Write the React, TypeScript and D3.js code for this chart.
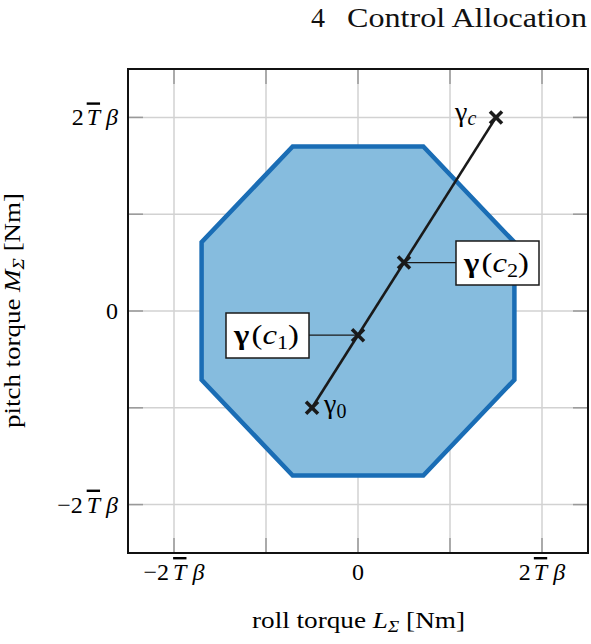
import React from "react";
import * as d3 from "d3";

const octagonX = [-0.71, 0.71, 1.7, 1.7, 0.71, -0.71, -1.7, -1.7];
const octagonY = [1.7, 1.7, 0.71, -0.71, -1.7, -1.7, -0.71, 0.71];
const pathX = [-0.5, 1.5];
const pathY = [-1, 2];
const markerX = [-0.5, 0, 0.5, 1.5];
const markerY = [-1, -0.25, 0.5, 2];
const gridValues = [-2, -1, 0, 1, 2];
const tickValues = [-2, 0, 2];
const tickLabels = ["−2", "0", "2"];

const W = 591, H = 644;
const L = 128, R = 588, T = 69, B = 553;
const FONT = "'Liberation Serif', 'Times New Roman', serif";

function TickLabel({ x, y, label, anchor }: { x: number; y: number; label: string; anchor: string }) {
  if (label === "0") {
    return (
      <text x={x} y={y} textAnchor={anchor} fontSize={24} fontFamily={FONT}>0</text>
    );
  }
  return (
    <text x={x} y={y} textAnchor={anchor} fontSize={24} fontFamily={FONT}>
      <tspan dx={0}>{label}</tspan>
      <tspan dx={label.length > 1 ? 4 : 3} fontStyle="italic" textDecoration="overline">T</tspan>
      <tspan dx={6} fontStyle="italic">β</tspan>
    </text>
  );
}

export default function App() {
  const x = d3.scaleLinear().domain([-2.5, 2.5]).range([L, R]);
  const y = d3.scaleLinear().domain([-2.5, 2.5]).range([B, T]);
  const octPts: [number, number][] = octagonX.map((v, i) => [x(v), y(octagonY[i])]);
  const poly = d3.line()(octPts.concat([octPts[0]])) + "Z";
  const segLine = d3.line()(pathX.map((v, i) => [x(v), y(pathY[i])] as [number, number]));
  const tick = 15;
  const ms = 6;

  const c1x = x(markerX[1]), c1y = y(markerY[1]);
  const c2x = x(markerX[2]), c2y = y(markerY[2]);

  return (
    <svg width={W} height={H} style={{ position: "absolute", left: 0, top: 0 }} fontFamily={FONT}>
      <rect x={0} y={0} width={W} height={H} fill="white" />
      <text x={311} y={27} fontSize={28} fontFamily={FONT} fill="#111">
        4
      </text>
      <text x={347} y={27} fontSize={28} fontFamily={FONT} fill="#111" textLength={240} lengthAdjust="spacingAndGlyphs">
        Control Allocation
      </text>
      {/* grid */}
      {gridValues.map((g) => (
        <g key={"g" + g}>
          <line x1={x(g)} x2={x(g)} y1={T} y2={B} stroke="#d2d2d2" strokeWidth={1.5} />
          <line x1={L} x2={R} y1={y(g)} y2={y(g)} stroke="#d2d2d2" strokeWidth={1.5} />
        </g>
      ))}
      {/* ticks */}
      {gridValues.map((g) => (
        <g key={"t" + g} stroke="#999" strokeWidth={1.5}>
          <line x1={x(g)} x2={x(g)} y1={B} y2={B - tick} />
          <line x1={x(g)} x2={x(g)} y1={T} y2={T + tick} />
          <line x1={L} x2={L + tick} y1={y(g)} y2={y(g)} />
          <line x1={R} x2={R - tick} y1={y(g)} y2={y(g)} />
        </g>
      ))}
      {/* octagon */}
      <path d={poly} fill="#86bcde" stroke="#1a6db5" strokeWidth={4.5} strokeLinejoin="miter" />
      {/* path line */}
      <path d={segLine || ""} stroke="#1a1a1a" strokeWidth={2.6} fill="none" />
      {/* leader lines */}
      <line x1={309} x2={c1x} y1={c1y} y2={c1y} stroke="#1a1a1a" strokeWidth={1.3} />
      <line x1={c2x} x2={456} y1={c2y} y2={c2y} stroke="#1a1a1a" strokeWidth={1.3} />
      {/* markers */}
      {markerX.map((mx, i) => {
        const px = x(mx), py = y(markerY[i]);
        return (
          <g key={"m" + i} stroke="#1a1a1a" strokeWidth={3.6} strokeLinecap="butt">
            <line x1={px - ms} y1={py - ms} x2={px + ms} y2={py + ms} />
            <line x1={px - ms} y1={py + ms} x2={px + ms} y2={py - ms} />
          </g>
        );
      })}
      {/* boxes */}
      <rect x={226} y={313} width={83} height={45} fill="white" stroke="#1a1a1a" strokeWidth={1.5} />
      <text x={234} y={344} fontSize={28} fontFamily={FONT} textLength={65} lengthAdjust="spacingAndGlyphs">
        <tspan fontWeight="bold">γ</tspan><tspan dx={2}>(</tspan><tspan fontStyle="italic">c</tspan><tspan fontSize={19} dy={5}>1</tspan><tspan dy={-5}>)</tspan>
      </text>
      <rect x={456} y={241} width={83} height={44} fill="white" stroke="#1a1a1a" strokeWidth={1.5} />
      <text x={464} y={272} fontSize={28} fontFamily={FONT} textLength={65} lengthAdjust="spacingAndGlyphs">
        <tspan fontWeight="bold">γ</tspan><tspan dx={2}>(</tspan><tspan fontStyle="italic">c</tspan><tspan fontSize={19} dy={5}>2</tspan><tspan dy={-5}>)</tspan>
      </text>
      {/* point labels */}
      <text x={x(markerX[0]) + 12} y={y(markerY[0]) + 5} fontSize={28} fontFamily={FONT}>
        γ<tspan fontSize={20} dy={5}>0</tspan>
      </text>
      <text x={x(markerX[3]) - 41} y={y(markerY[3]) + 4} fontSize={28} fontFamily={FONT}>
        γ<tspan fontSize={20} dy={4} fontStyle="italic">c</tspan>
      </text>
      {/* frame */}
      <rect x={L} y={T} width={R - L} height={B - T} fill="none" stroke="#111" strokeWidth={2} />
      {/* tick labels */}
      {tickValues.map((v, i) => (
        <TickLabel key={"xl" + v} x={x(v)} y={580} label={tickLabels[i]} anchor="middle" />
      ))}
      {tickValues.map((v, i) => (
        <TickLabel key={"yl" + v} x={118} y={y(v) + 8} label={tickLabels[i]} anchor="end" />
      ))}
      {/* axis labels */}
      <text x={252} y={628} fontSize={24} fontFamily={FONT} textLength={213} lengthAdjust="spacingAndGlyphs">
        roll torque <tspan fontStyle="italic">L</tspan><tspan fontStyle="italic" fontSize={17} dy={4}>Σ</tspan><tspan dy={-4}> [Nm]</tspan>
      </text>
      <text transform={`translate(20,428) rotate(-90)`} fontSize={24} fontFamily={FONT} textLength={235} lengthAdjust="spacingAndGlyphs">
        pitch torque <tspan fontStyle="italic">M</tspan><tspan fontStyle="italic" fontSize={17} dy={4}>Σ</tspan><tspan dy={-4}> [Nm]</tspan>
      </text>
    </svg>
  );
}
